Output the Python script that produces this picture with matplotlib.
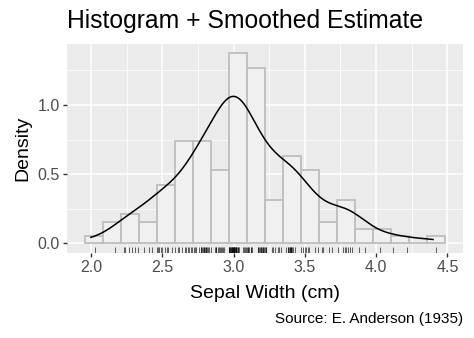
import numpy as np
import matplotlib
matplotlib.use("Agg")
import matplotlib.pyplot as plt

plt.rcParams["font.family"] = ["Liberation Sans", "DejaVu Sans"]

# --- Data: iris sepal widths (value -> count) ---
widths = [2.0, 2.2, 2.3, 2.4, 2.5, 2.6, 2.7, 2.8, 2.9, 3.0, 3.1, 3.2,
          3.3, 3.4, 3.5, 3.6, 3.7, 3.8, 3.9, 4.0, 4.1, 4.2, 4.4]
counts = [1, 3, 4, 3, 8, 5, 9, 14, 10, 26, 11, 13,
          6, 12, 6, 4, 3, 6, 2, 1, 1, 1, 1]

# rug positions (jittered)
rug = [2.03,
       2.17, 2.23, 2.24,
       2.27, 2.29, 2.31, 2.33,
       2.37, 2.41, 2.43,
       2.46, 2.47, 2.48, 2.49, 2.50, 2.52, 2.53, 2.54,
       2.57, 2.59, 2.61, 2.62, 2.64,
       2.66, 2.67, 2.68, 2.69, 2.70, 2.71, 2.72, 2.73, 2.74,
       2.76, 2.775, 2.77, 2.78, 2.785, 2.79, 2.795, 2.80, 2.805, 2.81, 2.815, 2.82, 2.83, 2.84,
       2.87, 2.875, 2.88, 2.89, 2.90, 2.905, 2.91, 2.92, 2.925, 2.93,
       2.965, 2.968, 2.97, 2.975, 2.978, 2.98, 2.985, 2.988, 2.99, 2.992, 2.995, 2.996, 2.998,
       3.0, 3.002, 3.004, 3.005, 3.008, 3.01, 3.015, 3.018, 3.02, 3.025, 3.028, 3.03, 3.035,
       3.07, 3.075, 3.08, 3.09, 3.095, 3.10, 3.105, 3.11, 3.12, 3.125, 3.13,
       3.17, 3.175, 3.18, 3.185, 3.19, 3.195, 3.20, 3.205, 3.21, 3.215, 3.22, 3.225, 3.23,
       3.27, 3.28, 3.29, 3.31, 3.32, 3.33,
       3.37, 3.38, 3.385, 3.39, 3.395, 3.398, 3.40, 3.402, 3.405, 3.41, 3.42, 3.43,
       3.47, 3.49, 3.50, 3.51, 3.52, 3.53,
       3.57, 3.59, 3.62, 3.63,
       3.67, 3.69, 3.73,
       3.77, 3.78, 3.79, 3.80, 3.82, 3.83,
       3.88, 3.92,
       4.03, 4.12, 4.22, 4.42]

x = np.repeat(widths, counts)

# --- ggplot-style bins (20 bins, right-closed) ---
nbins = 20
bw_bin = (x.max() - x.min()) / (nbins - 1)
boundary = bw_bin / 2
origin = boundary + np.floor((x.min() - boundary) / bw_bin) * bw_bin
edges = origin + np.arange(nbins + 1) * bw_bin + 1e-8

# --- kernel density (bw.nrd0) over data range ---
n = len(x)
iqr = np.percentile(x, 75) - np.percentile(x, 25)
bw = 0.9 * min(x.std(ddof=1), iqr / 1.34) * n ** -0.2
grid = np.linspace(x.min(), x.max(), 512)
dens = np.exp(-0.5 * ((grid[:, None] - x[None, :]) / bw) ** 2).sum(axis=1) / (n * bw * np.sqrt(2 * np.pi))

# --- Plot ---
fig = plt.figure(figsize=(4.74, 3.38), dpi=100)
ax = fig.add_axes([0.1414, 0.2515, 0.8354, 0.6183])
ax.set_facecolor("#EBEBEB")
for s in ax.spines.values():
    s.set_visible(False)

ax.hist(x, bins=edges, density=True, facecolor="#F0F0F0", edgecolor="#BEBEBE",
        linewidth=1.3, zorder=3)
ax.plot(grid, dens, color="black", linewidth=1.1, zorder=4)
ax.vlines(rug, 0, 0.03, transform=ax.get_xaxis_transform(), color="black",
          linewidth=0.6, alpha=0.7, zorder=4)

ax.set_xlim(1.832, 4.61)
ax.set_ylim(-0.069, 1.44)
ax.set_xticks([2.0, 2.5, 3.0, 3.5, 4.0, 4.5])
ax.set_xticklabels(["2.0", "2.5", "3.0", "3.5", "4.0", "4.5"])
ax.set_yticks([0.0, 0.5, 1.0])
ax.set_yticklabels(["0.0", "0.5", "1.0"])
ax.set_xticks([2.25, 2.75, 3.25, 3.75, 4.25], minor=True)
ax.set_yticks([0.25, 0.75, 1.25], minor=True)
ax.grid(which="major", color="white", linewidth=1.1, zorder=0)
ax.grid(which="minor", color="white", linewidth=0.55, zorder=0)
ax.set_axisbelow(True)
ax.tick_params(which="major", length=3, width=1, color="#333333",
               labelcolor="#4D4D4D", labelsize=11.5, pad=2)
ax.tick_params(which="minor", length=0)

ax.set_xlabel("Sepal Width (cm)", fontsize=14, labelpad=7)
ax.set_ylabel("Density", fontsize=14, labelpad=5)
fig.text(0.1414, 1 - 28 / 338, "Histogram + Smoothed Estimate", fontsize=17.8,
         ha="left", va="baseline")
fig.text(0.9768, 1 - 323 / 338, "Source: E. Anderson (1935)", fontsize=11,
         ha="right", va="baseline")

fig.savefig("out.png", dpi=100)
